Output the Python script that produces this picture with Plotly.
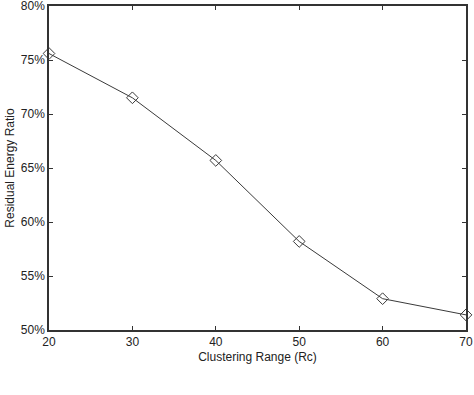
import plotly.graph_objects as go

clustering_range = [20, 30, 40, 50, 60, 70]
residual_energy = [0.756, 0.715, 0.657, 0.582, 0.529, 0.514]

y_tickvals = [0.50, 0.55, 0.60, 0.65, 0.70, 0.75, 0.80]
y_ticktext = ["50%", "55%", "60%", "65%", "70%", "75%", "80%"]
x_tickvals = [20, 30, 40, 50, 60, 70]

fig = go.Figure()
fig.add_trace(go.Scatter(
    x=clustering_range, y=residual_energy, mode="lines+markers",
    line=dict(color="#3a3a3a", width=1),
    marker=dict(symbol="diamond-open", size=9, color="#3a3a3a", line=dict(width=1)),
    cliponaxis=False,
))

axis_common = dict(
    showgrid=False, zeroline=False, showline=True, linecolor="#333333", linewidth=1.5,
    mirror="ticks", ticks="inside", ticklen=4, tickcolor="#333333", automargin=False,
    ticklabeloverflow="allow",
    tickfont=dict(family="Liberation Sans, Arial", size=12, color="#222222"),
)

fig.update_layout(
    width=474, height=395,
    paper_bgcolor="white", plot_bgcolor="white",
    margin=dict(l=49, r=8, t=6, b=65),
    showlegend=False,
    xaxis=dict(range=[20, 70], tickvals=x_tickvals,
               title=dict(text="Clustering Range (Rc)", standoff=4,
                          font=dict(family="Liberation Sans, Arial", size=12, color="#222222")),
               **axis_common),
    yaxis=dict(range=[0.50, 0.80], tickvals=y_tickvals, ticktext=y_ticktext,
               title=dict(text="Residual Energy Ratio", standoff=4,
                          font=dict(family="Liberation Sans, Arial", size=12, color="#222222")),
               **axis_common),
)

fig.write_html("out.html", config={"displayModeBar": False},
               post_script="document.body.style.margin='0';document.body.style.overflow='hidden';")
